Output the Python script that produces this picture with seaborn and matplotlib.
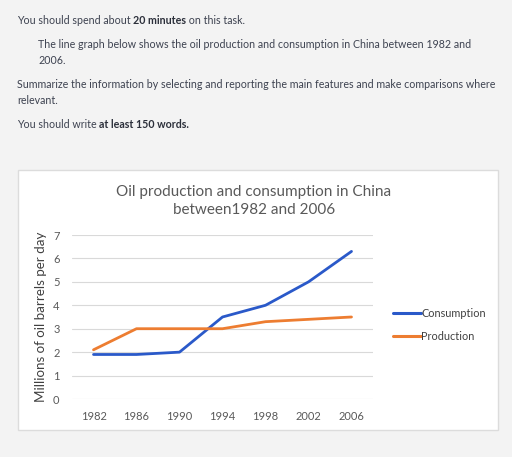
import matplotlib
matplotlib.use("Agg")
import matplotlib.pyplot as plt
import matplotlib.patches as patches
import pandas as pd
import seaborn as sns

# Data
years = ["1982", "1986", "1990", "1994", "1998", "2002", "2006"]
consumption = [1.9, 1.9, 2.0, 3.5, 4.0, 5.0, 6.3]
production = [2.1, 3.0, 3.0, 3.0, 3.3, 3.4, 3.5]
series_names = ["Consumption", "Production"]
series_colors = {"Consumption": "#2a59c9", "Production": "#ed7d31"}

title = "Oil production and consumption in China\nbetween1982 and 2006"
ylabel = "Millions of oil barrels per day"

df = pd.DataFrame({
    "year": years * 2,
    "value": consumption + production,
    "series": [series_names[0]] * len(years) + [series_names[1]] * len(years),
})

sns.set_style("white")
plt.rcParams["font.family"] = ["Lato", "DejaVu Sans"]

W, H = 512, 457
fig = plt.figure(figsize=(W / 100, H / 100), dpi=100)
fig.patch.set_facecolor("#f3f3f3")


def fx(px):
    return px / W


def fy(py):
    return 1 - py / H


# Prompt text above the chart
txt_color = "#3d4250"
fsize = 7.7
renderer = fig.canvas.get_renderer()


def rich_line(x, y, parts):
    for s, w in parts:
        t = fig.text(fx(x), fy(y), s, fontsize=fsize, fontweight=w,
                     color=txt_color if w == "normal" else "#2b2f3a", va="center")
        bb = t.get_window_extent(renderer)
        x = bb.x1


rich_line(17, 21, [("You should spend about ", "normal"), ("20 minutes", "bold"),
                   (" on this task.", "normal")])
rich_line(38, 45, [("The line graph below shows the oil production and consumption in China between 1982 and", "normal")])
rich_line(38, 61, [("2006.", "normal")])
rich_line(17, 84, [("Summarize the information by selecting and reporting the main features and make comparisons where", "normal")])
rich_line(17, 100, [("relevant.", "normal")])
rich_line(17, 124, [("You should write ", "normal"), ("at least 150 words.", "bold")])

# White chart box
box = patches.Rectangle((fx(18), fy(430)), fx(498) - fx(18), fy(170) - fy(430),
                        transform=fig.transFigure, facecolor="white",
                        edgecolor="#dcdcdc", linewidth=1.0, zorder=-1)
fig.patches.append(box)

ax = fig.add_axes([fx(72), fy(399), fx(373) - fx(72), fy(235) - fy(399)])
ax.set_facecolor("none")

sns.lineplot(data=df, x="year", y="value", hue="series", palette=series_colors,
             sort=False, linewidth=2.0, ax=ax, legend=False)

ax.set_xlim(-0.5, len(years) - 0.5)
ax.set_ylim(0, 7)
ax.set_yticks(range(0, 8))
ax.grid(axis="y", color="#d9d9d9", linewidth=0.8)
ax.set_axisbelow(True)
for sp in ax.spines.values():
    sp.set_visible(False)
ax.tick_params(axis="both", length=0, labelsize=8, colors="#595959")
ax.tick_params(axis="x", pad=9)
ax.tick_params(axis="y", pad=9)
ax.set_xlabel("")
ax.set_ylabel(ylabel, fontsize=9.6, color="#404040", labelpad=4)

fig.text(fx(254), fy(201), title, ha="center", va="center", fontsize=11,
         color="#595959", linespacing=1.35)

# Legend at the right
handles = [plt.Line2D([], [], color=series_colors[n], linewidth=2.2) for n in series_names]
fig.legend(handles, series_names, loc="center left",
           bbox_to_anchor=(fx(383), fy(325)), frameon=False, fontsize=7.8,
           handlelength=2.6, handletextpad=0.05, labelspacing=1.15,
           labelcolor="#404040")

fig.savefig("out.png", dpi=100, facecolor=fig.get_facecolor())
